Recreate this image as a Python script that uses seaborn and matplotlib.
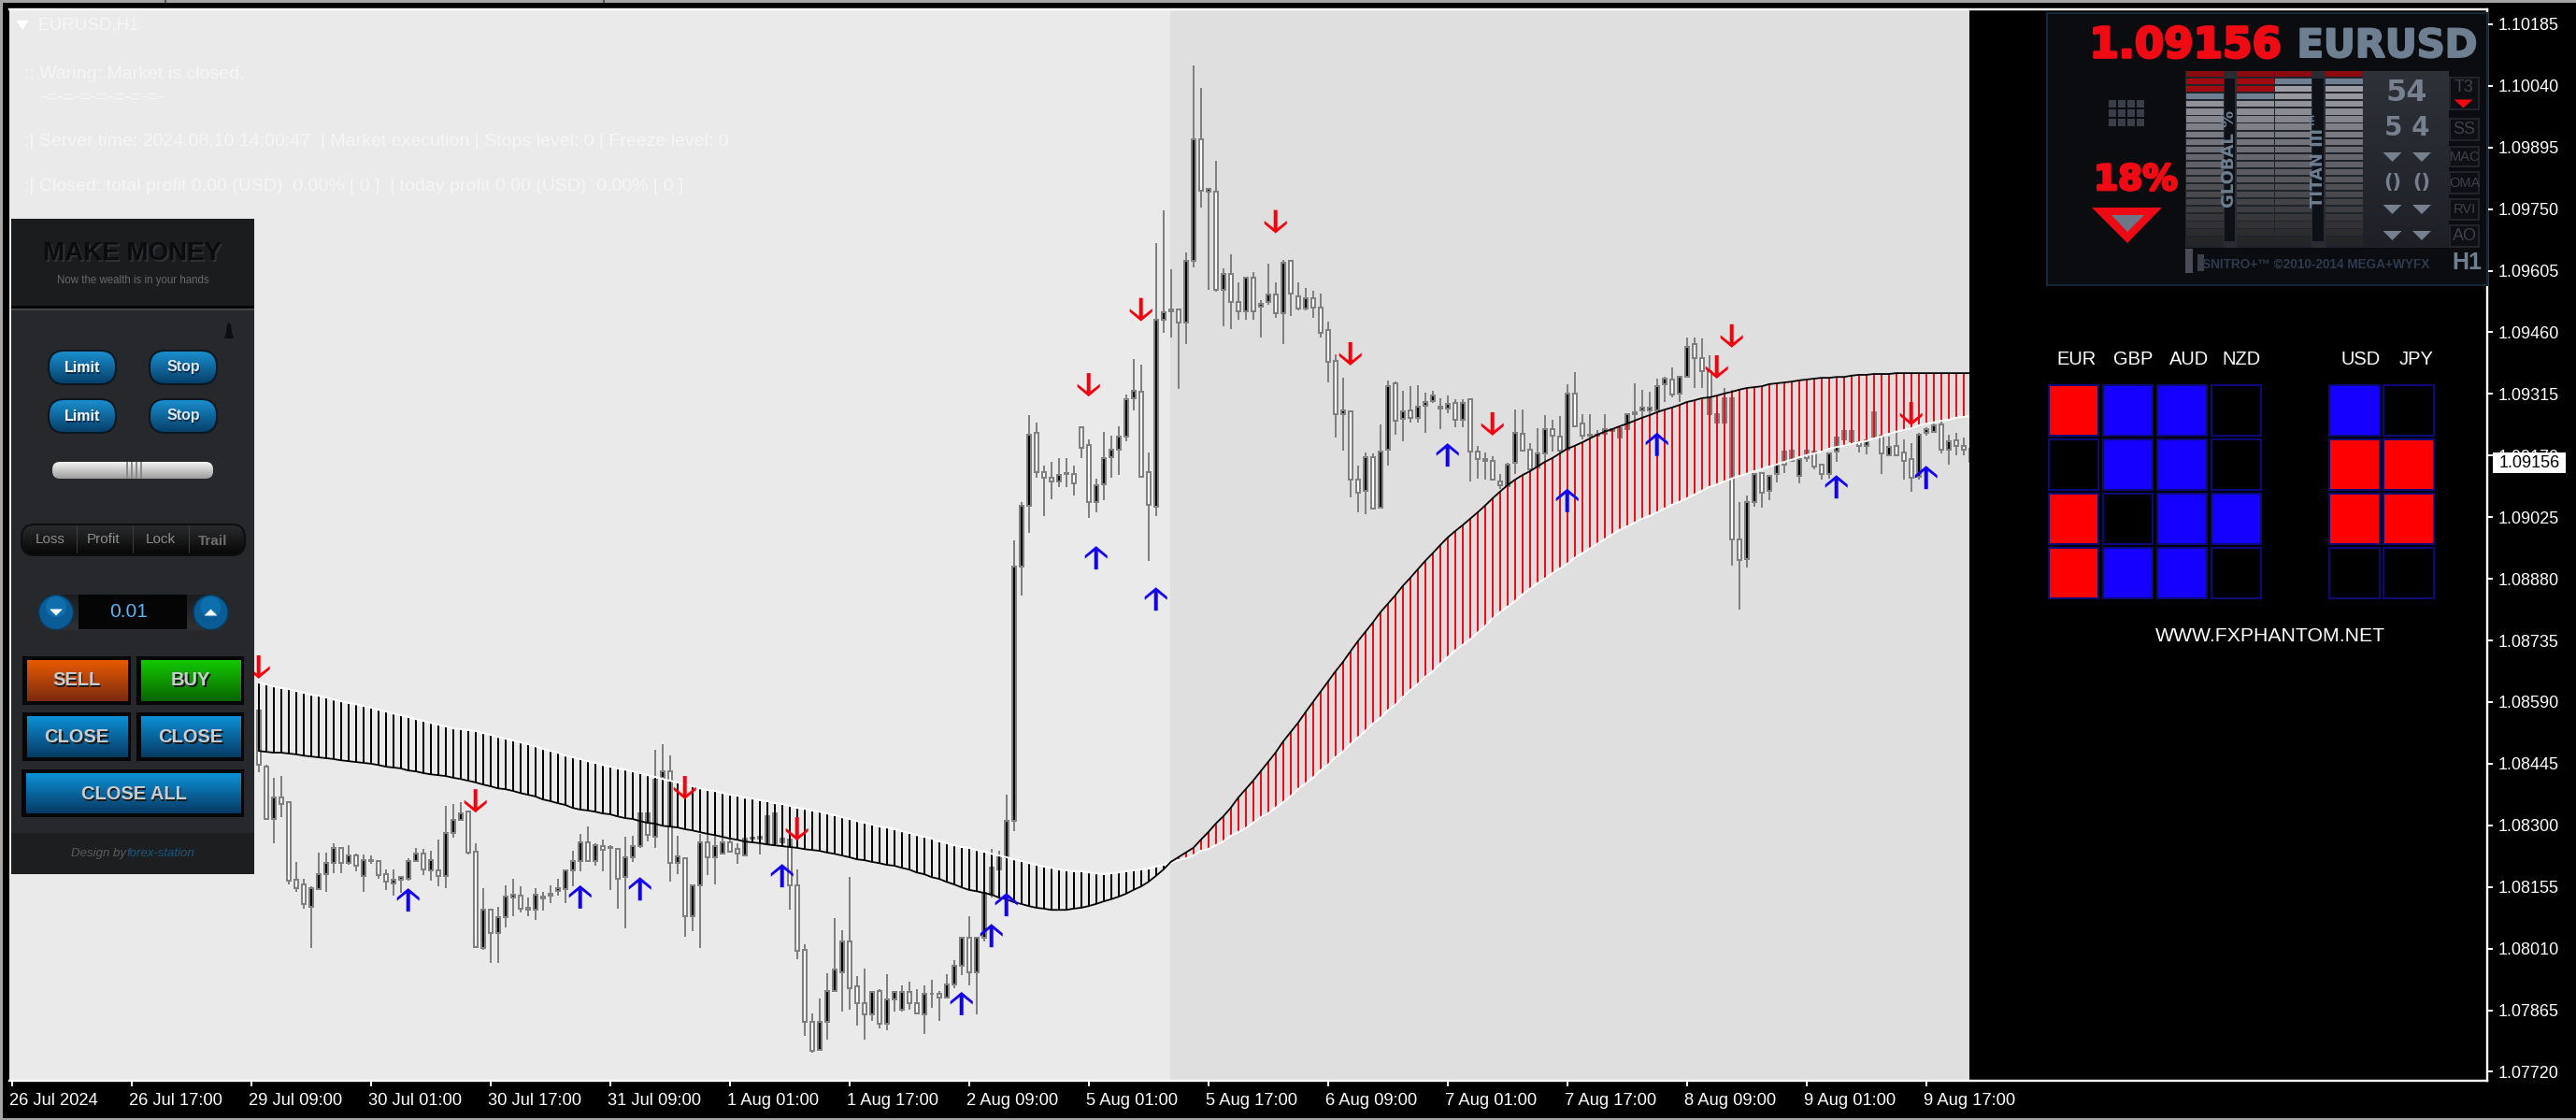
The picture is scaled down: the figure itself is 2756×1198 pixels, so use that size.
import numpy as np
import pandas as pd
import matplotlib
matplotlib.use("Agg")
import matplotlib.pyplot as plt
import matplotlib.patheffects as pe
from matplotlib.colors import ListedColormap, LinearSegmentedColormap
from matplotlib.markers import MarkerStyle
from matplotlib.patches import FancyBboxPatch, Rectangle, Polygon, Circle
from matplotlib.path import Path
from matplotlib.transforms import ScaledTranslation
import seaborn as sns

# ---------- data (prices in 1e-5 units; first candle is bar 33) ----------
first_bar = 33
candle_high = [
108577,108442,108412,108416,108354,108213,108174,108156,108236,108236,
108258,108247,108253,108234,108231,108230,108218,108196,108196,108181,
108222,108247,108244,108240,108266,108345,108350,108354,108334,108258,
108152,108102,108108,108159,108174,108156,108130,108152,108143,108159,
108174,108195,108240,108279,108297,108258,108266,108253,108247,108274,
108275,108328,108328,108478,108491,108464,108275,108225,108159,108280,
108277,108277,108271,108269,108258,108275,108275,108275,108324,108328,
108271,108273,108196,108020,107857,107892,107953,108082,108053,108178,
107945,107963,107911,107914,107950,107910,107923,107932,107914,107923,
107936,107910,107950,107983,108036,108086,108036,108141,108244,108240,
108372,108970,109061,109265,109247,109146,109155,109164,109164,109146,
109239,109207,109116,109226,109217,109239,109314,109397,109384,109177,
109670,109748,109608,109516,109648,110088,110035,109800,109864,109611,
109644,109578,109591,109602,109536,109622,109578,109630,109630,109578,
109564,109558,109551,109485,109408,109353,109276,109146,109177,109176,
109243,109347,109344,109322,109333,109336,109318,109322,109305,109311,
109303,109303,109305,109193,109177,109168,109127,109153,109278,109278,
109199,109234,109265,109254,109263,109338,109366,109267,109267,109230,
109267,109234,109237,109267,109340,109325,109320,109351,109355,109377,
109358,109448,109448,109446,109406,109311,109329,109325,109061,109076,
109129,109129,109124,109179,109179,109186,109164,109186,109186,109149,
109175,109212,109228,109228,109212,109274,109274,109219,109215,109226,
109208,109199,109223,109237,109245,109252,109219,109223,109212,109193]
body_top = [
108570,108438,108366,108366,108354,108173,108161,108152,108186,108212,
108247,108247,108229,108230,108219,108219,108217,108186,108172,108178,
108217,108234,108234,108219,108195,108283,108313,108329,108332,108239,
108102,108102,108085,108133,108137,108134,108107,108136,108133,108140,
108152,108195,108216,108261,108261,108253,108251,108249,108244,108225,
108251,108328,108328,108407,108427,108427,108227,108222,108159,108261,
108261,108251,108261,108261,108244,108269,108272,108273,108322,108328,
108269,108266,108159,108007,107838,107838,107911,107961,108027,108027,
107921,107882,107909,107910,107891,107909,107909,107909,107882,107903,
107904,107904,107925,107970,108036,108036,108036,108141,108200,108225,
108310,108909,109052,109219,109223,109131,109118,109124,109128,109127,
109237,109195,109100,109164,109184,109214,109303,109322,109320,109131,
109490,109508,109514,109514,109628,109914,109914,109798,109792,109598,
109598,109531,109589,109589,109527,109548,109549,109624,109628,109544,
109540,109540,109518,109465,109393,109276,109274,109114,109167,109167,
109179,109333,109339,109274,109276,109285,109296,109311,109285,109292,
109294,109294,109303,109179,109162,109157,109109,109149,109223,109221,
109184,109175,109232,109232,109215,109316,109316,109245,109219,109219,
109232,109232,109234,109267,109272,109283,109283,109333,109351,109349,
109355,109426,109432,109399,109369,109267,109305,109305,108973,109061,
109127,109129,109122,109149,109179,109182,109162,109182,109179,109149,
109175,109212,109228,109228,109201,109206,109272,109217,109190,109193,
109177,109162,109219,109232,109241,109243,109204,109206,109193,109186]
body_bottom = [
108442,108315,108315,108351,108170,108152,108114,108109,108150,108185,
108211,108211,108211,108205,108180,108217,108183,108168,108163,108173,
108174,108217,108197,108195,108181,108180,108283,108313,108236,108013,
108011,108046,108046,108085,108131,108104,108101,108102,108127,108134,
108146,108151,108195,108217,108217,108217,108242,108247,108175,108178,
108225,108251,108277,108273,108412,108211,108211,108087,108087,108159,
108225,108225,108234,108239,108233,108229,108269,108268,108256,108258,
108261,108159,108004,107837,107769,107772,107838,107911,107955,107916,
107881,107855,107855,107833,107833,107891,107866,107881,107857,107855,
107903,107894,107895,107925,107970,107955,107955,108036,108137,108196,
108225,108310,108909,109052,109131,109118,109109,109110,109127,109105,
109188,109060,109061,109102,109167,109184,109215,109304,109121,109053,
109049,109490,109509,109483,109483,109628,109793,109791,109559,109560,
109531,109509,109509,109509,109520,109531,109505,109506,109551,109517,
109517,109518,109459,109391,109267,109267,109114,109083,109087,109045,
109047,109184,109251,109256,109259,109259,109287,109298,109281,109281,
109254,109254,109179,109162,109157,109113,109100,109098,109153,109182,
109138,109142,109175,109217,109182,109184,109239,109217,109217,109217,
109221,109228,109212,109232,109267,109276,109276,109276,109338,109314,
109316,109355,109399,109369,109267,109248,109248,108973,108924,108926,
109061,109083,109087,109127,109149,109157,109122,109164,109144,109127,
109127,109179,109208,109204,109193,109193,109215,109175,109171,109171,
109157,109118,109120,109223,109226,109184,109184,109193,109184,109156]
candle_low = [
108425,108312,108258,108319,108162,108143,108104,108011,108148,108143,
108187,108187,108207,108192,108143,108209,108174,108148,108134,108141,
108170,108214,108183,108169,108156,108152,108271,108312,108231,108013,
108007,107976,107976,108060,108086,108095,108086,108077,108099,108117,
108134,108117,108156,108192,108214,108205,108192,108148,108104,108057,
108214,108246,108262,108246,108409,108167,108185,108038,108051,108011,
108184,108162,108233,108236,108209,108229,108262,108231,108253,108255,
108258,108101,107985,107804,107765,107769,107796,107910,107862,107867,
107828,107796,107840,107823,107818,107862,107862,107866,107855,107809,
107870,107840,107894,107917,107947,107923,107855,108026,108130,108185,
108218,108286,108841,108988,109118,109028,109067,109096,109096,109076,
109164,109024,109036,109064,109117,109125,109204,109276,109118,108923,
109028,109459,109447,109327,109433,109613,109754,109560,109556,109474,
109468,109490,109490,109490,109447,109525,109495,109433,109499,109512,
109512,109495,109447,109342,109212,109182,109072,109036,109032,109043,
109047,109146,109218,109204,109248,109248,109223,109294,109232,109270,
109237,109237,109109,109116,109113,109113,109091,109091,109127,109182,
109135,109133,109149,109179,109146,109179,109237,109208,109204,109208,
109219,109215,109212,109230,109250,109252,109267,109274,109296,109307,
109296,109355,109329,109329,109267,109248,109248,108911,108808,108907,
109050,109047,109065,109107,109129,109157,109105,109155,109138,109113,
109116,109155,109208,109197,109177,109173,109212,109127,109171,109171,
109113,109085,109113,109217,109223,109175,109149,109171,109171,109142]
# B = black body (rising bar), W = white body (falling bar)
candle_kind = (
"WWBWWWWBBB" "BWBWBBWWBB" "BBWBWBBBWW" "BWBBBWBBBB" "BBBBWBWBWB"
"BBWBBWBWBB" "WBBWWBBBBW" "BWWWWBBBBW" "WWBWBBBWWB" "BWBBBWBBBB"
"BBBBWWWBBW" "WWBBBBBBWW" "BBBWBBWBWB" "WWBWBBWBWW" "BWWWWBWWBW"
"BBWBWBBBWB" "WBWWBWWBBW" "WBBWWBWWBB" "BBBBBBBBBW" "BBWWWBBWWB"
"BWBBWWBWWW" "BBBBWBWWBW" "WWBBBWBWWW")

band_white = [
108636,108632,108627,108623,108621,108616,108612,108607,108605,108601,
108596,108592,108588,108585,108581,108577,108572,108568,108563,108559,
108555,108550,108546,108541,108537,108533,108528,108526,108524,108522,
108517,108513,108508,108504,108500,108495,108491,108486,108480,108475,
108471,108464,108460,108456,108451,108447,108442,108438,108434,108431,
108427,108423,108418,108414,108409,108405,108401,108396,108392,108387,
108383,108381,108376,108372,108370,108365,108363,108359,108357,108352,
108350,108346,108341,108339,108335,108332,108328,108324,108319,108315,
108310,108306,108302,108297,108295,108291,108286,108282,108277,108273,
108269,108262,108258,108253,108249,108247,108242,108238,108233,108229,
108225,108220,108216,108211,108207,108203,108200,108196,108194,108192,
108192,108189,108187,108185,108187,108189,108192,108194,108196,108198,
108203,108207,108211,108218,108222,108229,108240,108244,108253,108262,
108275,108284,108293,108306,108319,108328,108341,108354,108368,108385,
108398,108412,108429,108442,108460,108473,108491,108506,108522,108539,
108552,108570,108583,108601,108618,108632,108649,108662,108680,108695,
108711,108724,108737,108753,108768,108786,108801,108814,108827,108843,
108856,108869,108880,108893,108904,108915,108929,108940,108951,108962,
108973,108984,108995,109003,109012,109021,109028,109036,109045,109054,
109061,109069,109078,109087,109096,109102,109109,109116,109122,109127,
109133,109138,109144,109149,109155,109160,109166,109171,109175,109179,
109186,109190,109193,109197,109201,109204,109210,109215,109221,109226,
109230,109234,109241,109245,109248,109252,109254,109259,109261,109263]
band_black = [
108475,108473,108471,108471,108469,108467,108464,108462,108460,108458,
108456,108453,108451,108449,108447,108445,108442,108438,108436,108434,
108429,108427,108423,108420,108418,108416,108412,108409,108405,108401,
108396,108392,108387,108385,108381,108376,108372,108368,108361,108357,
108352,108348,108341,108337,108335,108332,108328,108326,108321,108317,
108315,108310,108306,108304,108299,108297,108295,108291,108288,108284,
108280,108277,108273,108269,108266,108262,108260,108258,108255,108253,
108251,108249,108247,108244,108242,108240,108236,108233,108229,108225,
108220,108218,108214,108211,108207,108205,108200,108196,108189,108185,
108178,108174,108167,108161,108154,108148,108145,108141,108137,108130,
108126,108119,108115,108110,108106,108104,108101,108101,108101,108104,
108106,108110,108115,108121,108126,108132,108139,108148,108156,108167,
108181,108196,108214,108225,108236,108247,108266,108284,108304,108321,
108341,108365,108385,108405,108427,108449,108471,108497,108519,108541,
108566,108590,108614,108638,108662,108684,108709,108733,108755,108777,
108801,108821,108841,108863,108882,108902,108922,108940,108959,108977,
108992,109006,109021,109036,109052,109069,109085,109100,109113,109124,
109133,109144,109155,109164,109175,109186,109193,109201,109210,109219,
109226,109232,109239,109245,109252,109259,109265,109272,109278,109283,
109289,109296,109300,109305,109307,109311,109316,109320,109325,109329,
109331,109333,109338,109340,109342,109344,109347,109349,109351,109353,
109353,109355,109355,109358,109360,109360,109362,109362,109362,109364,
109364,109364,109364,109364,109364,109364,109364,109364,109364,109364]

sell_bars = [33, 62, 90, 105, 144, 151, 169, 179, 198, 228, 230, 254]
sell_tips = [108645, 108330, 108361, 108264, 109309, 109486, 109693, 109382, 109217, 109351, 109424, 109241]
buy_bars = [53, 76, 84, 103, 127, 131, 133, 145, 153, 192, 208, 220, 244, 256]
buy_tips = [108152, 108159, 108178, 108209, 107908, 108068, 108141, 108957, 108860, 109199, 109092, 109224, 109124, 109146]

price_ticks = ["1.10185", "1.10040", "1.09895", "1.09750", "1.09605", "1.09460", "1.09315", "1.09170", "1.09025",
               "1.08880", "1.08735", "1.08590", "1.08445", "1.08300", "1.08155", "1.08010", "1.07865", "1.07720"]
time_labels = ["26 Jul 2024", "26 Jul 17:00", "29 Jul 09:00", "30 Jul 01:00", "30 Jul 17:00", "31 Jul 09:00",
               "1 Aug 01:00", "1 Aug 17:00", "2 Aug 09:00", "5 Aug 01:00", "5 Aug 17:00", "6 Aug 09:00",
               "7 Aug 01:00", "7 Aug 17:00", "8 Aug 09:00", "9 Aug 01:00", "9 Aug 17:00"]
bars_per_label = 16
last_price = 1.09156

majors = ["EUR", "GBP", "AUD", "NZD"]
others = ["USD", "JPY"]
state_majors = [[1, 2, 2, 0], [0, 2, 2, 0], [1, 0, 2, 2], [1, 2, 2, 0]]
state_others = [[2, 0], [1, 1], [1, 1], [0, 0]]

# ---------- set-up ----------
W, H = 2756, 1198
DPI = 100
PX = 72 / DPI
sns.set_theme(style="white", rc={"axes.grid": False})
plt.rcParams["font.family"] = ["Liberation Sans", "DejaVu Sans"]

fig = plt.figure(figsize=(W / DPI, H / DPI), dpi=DPI, facecolor="black")
L, R, T, B = 10, 2661, 10, 1156
ax = fig.add_axes([L / W, 1 - B / H, (R - L) / W, (B - T) / H], facecolor="black")

bar_px = 8.0
def x_of_px(px):
    return (px - 12.7) / bar_px

bars = np.arange(first_bar, first_bar + len(candle_high))
df = pd.DataFrame({
    "bar": bars,
    "high": np.array(candle_high) / 1e5,
    "top": np.array(body_top) / 1e5,
    "bottom": np.array(body_bottom) / 1e5,
    "low": np.array(candle_low) / 1e5,
    "kind": list(candle_kind),
    "white": np.array(band_white) / 1e5,
    "black": np.array(band_black) / 1e5,
})
df["open"] = np.where(df.kind == "B", df.bottom, df.top)
df["close"] = np.where(df.kind == "B", df.top, df.bottom)

ax.set_xlim(x_of_px(L), x_of_px(R))
ax.set_ylim(1.07699, 1.10220)

ax.axvspan(x_of_px(L), x_of_px(1252.3), color="#EAEAEA", lw=0, zorder=0)
ax.axvspan(x_of_px(1252.3), x_of_px(2107), color="#DFDFDF", lw=0, zorder=0)

# candles
GRAY = "#808080"
ax.vlines(df.bar, df.low, df.high, color=GRAY, lw=2 * PX, zorder=2)
ax.bar(df.bar, df.top - df.bottom, bottom=df.bottom, width=0.5,
       color=np.where(df.kind == "B", "black", "white"), edgecolor=GRAY, linewidth=2 * PX, zorder=3)

# band histogram
bear = df[df.white >= df.black]
bull = df[df.white < df.black]
ax.vlines(bear.bar, bear.black, bear.white, color="black", lw=2 * PX, zorder=4)
ax.vlines(bull.bar, bull.white, bull.black, color="#EE0F0F", lw=2 * PX, zorder=4)
sns.lineplot(data=df, x="bar", y="white", color="white", lw=2 * PX, ax=ax, zorder=5, legend=False)
sns.lineplot(data=df, x="bar", y="black", color="black", lw=1.8 * PX, ax=ax, zorder=5, legend=False)

# arrows: tip of the marker sits on the value
down_path = Path([(0, 0), (12, 10), (12, 13.5), (2, 5.5), (2, 25), (-2, 25), (-2, 5.5), (-12, 13.5), (-12, 10), (0, 0)], closed=True)
up_path = Path([(x, -y) for x, y in down_path.vertices], closed=True)
size = (2 * 25 * PX) ** 2
sns.scatterplot(x=sell_bars, y=np.array(sell_tips) / 1e5, marker=MarkerStyle(down_path), s=size,
                color="#F5000F", edgecolor="none", linewidth=0, ax=ax, zorder=6)
sns.scatterplot(x=buy_bars, y=np.array(buy_tips) / 1e5, marker=MarkerStyle(up_path), s=size,
                color="#1400F0", edgecolor="none", linewidth=0, ax=ax, zorder=6)

ax.axvspan(x_of_px(2107), x_of_px(R), color="black", lw=0, zorder=7)
ax.set_xlabel("")
ax.set_ylabel("")

# axes
ax.yaxis.tick_right()
ax.set_yticks([float(t) for t in price_ticks], price_ticks, fontsize=13, color="white")
ax.set_xticks(np.arange(len(time_labels)) * bars_per_label, time_labels, fontsize=13.2, color="white", ha="left")
ax.tick_params(axis="y", length=6 * PX, width=2 * PX, color="white", pad=6 * PX, right=True, labelright=True)
ax.tick_params(axis="x", length=6 * PX, width=2 * PX, color="white", pad=7 * PX, bottom=True)
offset = ScaledTranslation(-3 / DPI, 0, fig.dpi_scale_trans)
for lab in ax.get_xticklabels():
    lab.set_transform(lab.get_transform() + offset)
for s, sp in ax.spines.items():
    sp.set_color("white")
    sp.set_linewidth(2.4 * PX)
    sp.set_zorder(8)
ax.spines["left"].set_visible(False)

# ---------- overlay in pixel coordinates ----------
ov = fig.add_axes([0, 0, 1, 1], facecolor="none", zorder=5)
ov.set_xlim(0, W)
ov.set_ylim(H, 0)
ov.axis("off")
ov.autoscale(False)


def rect(x0, y0, x1, y1, fc, ec="none", lw=0, z=1):
    ov.add_patch(Rectangle((x0, y0), x1 - x0, y1 - y0, fc=fc, ec=ec, lw=lw * PX, zorder=z))


def grad(x0, y0, x1, y1, top, bottom, radius=0, z=2, edge=None, elw=2):
    cm = LinearSegmentedColormap.from_list("g", [top, bottom])
    im = ov.imshow(np.linspace(0, 1, 64)[:, None], cmap=cm, extent=(x0, x1, y1, y0), aspect="auto",
                   zorder=z, interpolation="bilinear")
    style = f"round,pad=0,rounding_size={radius}" if radius else "square,pad=0"
    p = FancyBboxPatch((x0, y0), x1 - x0, y1 - y0, boxstyle=style, fc="none",
                       ec=edge if edge else "none", lw=elw * PX, zorder=z + 0.1)
    ov.add_patch(p)
    im.set_clip_path(p)


def txt(x, y, s, size, color="white", weight="normal", ha="center", va="center", z=5, shadow=None, heavy=0, **k):
    if shadow:
        ov.text(x + 1.5, y + 2, s, fontsize=size, color=shadow, fontweight=weight, ha=ha, va=va, zorder=z - 0.1, **k)
    t = ov.text(x, y, s, fontsize=size, color=color, fontweight=weight, ha=ha, va=va, zorder=z, **k)
    if heavy:
        t.set_path_effects([pe.withStroke(linewidth=heavy, foreground=color)])


def tri(cx, cy, w, h, fc, down=True, z=4):
    s = 1 if down else -1
    ov.add_patch(Polygon([(cx - w / 2, cy - s * h / 2), (cx + w / 2, cy - s * h / 2), (cx, cy + s * h / 2)],
                         closed=True, fc=fc, ec="none", zorder=z))


# window frame
rect(0, 0, W, 3, "#A4A4A4")
rect(0, 0, 3, H, "#A4A4A4")
rect(0, H - 2, W, H, "#A4A4A4")
rect(176, 0, 178, 3, "#505050", z=2)
rect(645, 0, 647, 3, "#505050", z=2)

# top-left comment text
LT = "#F6F6F6"
tri(24, 27, 13, 10, "white")
txt(41, 27, "EURUSD,H1", 13.5, LT, ha="left")
txt(26, 79, ":: Waring: Market is closed.", 14, LT, ha="left")
txt(43, 104, "-=-=-=-=-=-=-=-", 14, LT, ha="left")
txt(26, 151, ":| Server time: 2024.08.10 14:00:47  | Market execution | Stops level: 0 | Freeze level: 0", 14, LT, ha="left")
txt(26, 199, ":| Closed: total profit 0.00 (USD)  0.00% [ 0 ]  | today profit 0.00 (USD)  0.00% [ 0 ]", 14, LT, ha="left")

# trading panel
rect(12, 234, 272, 935, "#26282B")
rect(12, 234, 272, 327, "#1B1C1E")
rect(12, 327, 272, 330, "#060606")
rect(12, 330, 272, 332, "#444649")
rect(12, 891, 272, 935, "#1D1E20")
txt(142, 271, "MAKE MONEY", 20, "#0B0C0E", "bold", shadow="#2E3033")
txt(142, 300, "Now the wealth is in your hands", 8.3, "#66686B")
ov.add_patch(Polygon([(240, 362), (250, 362), (248, 356), (247, 347), (245, 345), (243, 347), (242, 356)],
                     fc="#0C0D0E", ec="none", zorder=4))
for cy in (393, 445):
    for cx, s in ((88, "Limit"), (196, "Stop")):
        grad(cx - 36, cy - 18, cx + 36, cy + 18, "#1A90D0", "#063E68", radius=17, edge="#0A1620")
        txt(cx, cy, s, 11.5, "white" if s == "Limit" else "#DDE6EE", "bold", shadow="#0A2A44")
grad(56, 494, 228, 512, "#F4F4F4", "#9E9E9E", radius=8)
for x in (135, 140, 145, 150):
    rect(x, 494, x + 2, 512, "#8A8A8A", z=4)
grad(23, 561, 262, 594, "#2B2C2E", "#060606", radius=14, edge="#0E0E0E")
for x in (82, 142, 202):
    rect(x, 563, x + 1, 592, "#3A3B3D", z=4)
for x, y, s, c, w in ((53.5, 577, "Loss", "#8C8C8C", "normal"), (110.5, 577, "Profit", "#8C8C8C", "normal"),
                      (172, 577, "Lock", "#8C8C8C", "normal"), (227.5, 579, "Trail", "#6E6E6E", "bold")):
    txt(x, y, s, 11, c, w)
grad(42, 636, 244, 674, "#1B1C1E", "#2F3134", radius=18)
rect(84, 636, 200, 673, "#050505", z=4)
txt(138, 655, "0.01", 15, "#5DB2F0")
for cx, down in ((60, True), (225.5, False)):
    ov.add_patch(Circle((cx, 655), 18.5, fc="#0A5C96", ec="#0A3A5E", lw=1, zorder=4))
    ov.add_patch(Circle((cx, 649), 11, fc="#1483C4", ec="none", alpha=0.5, zorder=4.1))
    tri(cx, 655, 14, 7, "white", down=down, z=4.2)
for x0, y0, x1, y1, t, b in ((29, 706, 137, 750, "#E85A00", "#7C2A10"), (151, 706, 258, 750, "#12C800", "#0A6600"),
                             (29, 766, 137, 810, "#0C90D6", "#063A64"), (151, 766, 258, 810, "#0C90D6", "#063A64"),
                             (28, 827, 258, 870, "#0C90D6", "#063A64")):
    rect(x0 - 5, y0 - 4, x1 + 3, y1 + 4, "#060606", z=1.5)
    grad(x0, y0, x1, y1, t, b)
for x, y, s in ((82, 727.5, "SELL"), (204, 727.5, "BUY"), (82, 788, "CLOSE"), (204, 788, "CLOSE"), (143, 849.5, "CLOSE ALL")):
    txt(x, y, s, 14.4, "#C9CCCE", "bold", shadow="#1A1A1A")
txt(105, 913, "Design by", 9.5, "#5A5C5E", style="italic")
txt(172, 913, "forex-station", 9.5, "#1B5680", style="italic")

# top-right widget
rect(2190, 14, 2661, 305, "#0A0C10", ec="#14283A", lw=2)
DJ = ["DejaVu Sans"]
txt(2338, 49, "1.09156", 32.5, "#F00A14", "bold", family=DJ, heavy=2)
txt(2554, 49, "EURUSD", 30, "#6D7F91", "bold", family=DJ, heavy=1.5)
for c in range(4):
    for r in range(3):
        rect(2256 + 10 * c, 107 + 10 * r, 2264 + 10 * c, 115 + 10 * r, "#3A3E48")
txt(2285, 193, "18%", 27, "#F00A14", "bold", family=DJ, heavy=2)
ov.add_patch(Polygon([(2238, 222), (2313, 222), (2276, 260)], fc="#EE0A14", ec="none", zorder=3))
ov.add_patch(Polygon([(2259, 230), (2294, 230), (2276, 248)], fc="#6D7686", ec="none", zorder=4))
rect(2338, 76, 2528, 265, "#22242B")
rect(2379, 76, 2393, 265, "#2A2C32")
rect(2473, 76, 2488, 265, "#2A2C32")
rows = 23
levels = np.linspace(0.66, 0.15, rows)
for r in range(rows):
    y0 = 76 + 8.07 * r
    g = (levels[r], levels[r], levels[r] * 1.06)
    for j, (x0, x1) in enumerate(((2338.5, 2379), (2393, 2433), (2433.5, 2473), (2488, 2528))):
        col = g
        n_red = (3, 3, 1, 1)[j]
        if r < n_red:
            col = "#A00A10" if r else "#8A0A10"
        elif r == n_red:
            col = "#6D7F91"
        rect(x0, y0, x1, y0 + 6.2, col, z=2)
rect(2380, 84, 2391, 258, "#0E1018", z=3)
rect(2474, 84, 2486, 258, "#0E1018", z=3)
txt(2385.5, 170, "GLOBAL %", 13, "#6D7F91", "bold", rotation=90, family=DJ)
txt(2480, 170, "TITAN III™", 13, "#6D7F91", "bold", rotation=90, family=DJ)
grad(2528, 76, 2620, 265, "#2E3138", "#1E2026", z=2)
txt(2575, 100, "54", 23, "#76808F", "bold", family=DJ)
txt(2575, 137, "5 4", 20, "#76808F", "bold", family=DJ)
for y in (168, 224, 252):
    tri(2559.5, y, 20, 10, "#76808F")
    tri(2591, y, 20, 10, "#76808F")
for x in (2559.5, 2591):
    txt(x, 195, "()", 15, "#76808F", "bold", family=DJ)
for y0, y1, s in ((83, 117, "T3"), (127, 150, "SS"), (157, 178, "MAC"), (184, 207, "OMA"), (213, 235, "RVI"), (241, 264, "AO")):
    rect(2621, y0, 2652, y1, "#0D0F13", ec="#22242A", lw=2, z=2)
    txt(2636.5, (y0 + y1) / 2 - (6 if s == "T3" else 0), s, 10.5 if len(s) > 2 else 13, "#3E4149")
tri(2635.5, 111, 20, 9, "#F00A14")
rect(2338, 266, 2346, 292, "#4A4D58")
rect(2351, 272, 2358, 290, "#3C3F4A")
txt(2478, 283, "SNITRO+™ ©2010-2014 MEGA+WYFX", 9.8, "#2E3A4E", "bold")
txt(2639, 281, "H1", 18, "#6D7F91", "bold")

# currency strength tables
blocks = [(2189.5, 410, state_majors, majors, [2221.7, 2282.5, 2342.5, 2398]),
          (2490, 410, state_others, others, [2526, 2584.7])]
cell_cmap = ListedColormap(["#000000", "#FF0000", "#1500FF"])
for x0, y0, state, names, label_x in blocks:
    m = pd.DataFrame(state, columns=names)
    a = fig.add_axes([x0 / W, 1 - (y0 + 232) / H, 58 * m.shape[1] / W, 232 / H], zorder=6)
    sns.heatmap(m, ax=a, cmap=cell_cmap, vmin=0, vmax=2, cbar=False, linewidths=5 * PX, linecolor="black",
                xticklabels=False, yticklabels=False)
    for r in range(m.shape[0]):
        for c in range(m.shape[1]):
            a.add_patch(Rectangle((c + 0.035, r + 0.035), 0.93, 0.93, fill=False, ec="#0A0A78", lw=2 * PX))
    for s, lx in zip(names, label_x):
        txt(lx, 385, s, 14.5)
txt(2429, 681, "WWW.FXPHANTOM.NET", 15.3)

# current price tag
rect(2667, 484, 2745, 506, "white", z=6)
txt(2674, 495, f"{last_price:.5f}", 13, "black", ha="left", z=7)

fig.savefig("out.png", dpi=DPI, facecolor="black")
